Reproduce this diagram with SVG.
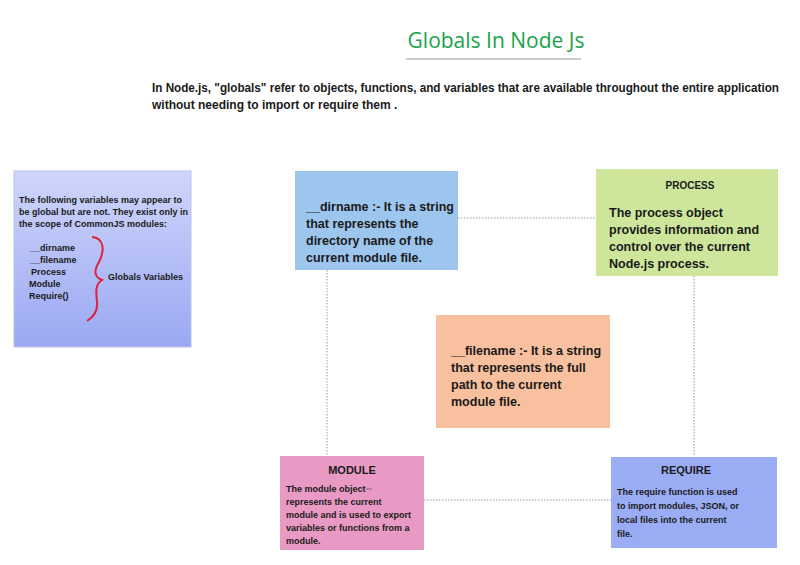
<svg xmlns="http://www.w3.org/2000/svg" width="800" height="565" viewBox="0 0 800 565">
<style>
text{font-family:"Liberation Sans",Arial,sans-serif;font-weight:bold;fill:#1a1a1a}
.s{font-size:9px}
.m{font-size:12.5px}
.h{font-size:11px}
.c{stroke:#999;stroke-width:1;stroke-dasharray:1.5 1.5;fill:none}
</style>
<defs>
<linearGradient id="g" x1="0" y1="0" x2="0" y2="1"><stop offset="0" stop-color="#cfd6fb"/><stop offset="1" stop-color="#9aa8f2"/></linearGradient>
</defs>
<rect width="800" height="565" fill="#fff"/>
<g id="title">
<text x="496" y="48" text-anchor="middle" style="font-size:21px;font-weight:normal;fill:#1aa34a;font-family:'Open Sans','Liberation Sans',sans-serif">Globals In Node Js</text>
<line x1="406" y1="59" x2="581" y2="59" stroke="#999"/>
<text x="152" y="92" style="font-size:12px" textLength="627" lengthAdjust="spacingAndGlyphs">In Node.js, "globals" refer to objects, functions, and variables that are available throughout the entire application</text>
<text x="152" y="109" style="font-size:12px">without needing to import or require them .</text>
</g>
<g id="connectors">
<path class="c" d="M458 218H596M327 270V456M694 276V456M424 500H611"/>
</g>
<g id="left">
<rect x="14" y="171" width="177" height="176" fill="url(#g)" stroke="#b8c2f0"/>
<text class="s" x="19" y="203">The following variables may appear to</text>
<text class="s" x="19" y="215">be global but are not. They exist only in</text>
<text class="s" x="19" y="227">the scope of CommonJS modules:</text>
<text class="s" x="30" y="251">__dirname</text>
<text class="s" x="30" y="263">__filename</text>
<text class="s" x="31" y="275">Process</text>
<text class="s" x="29" y="287">Module</text>
<text class="s" x="29" y="299">Require()</text>
<path d="M92 237C104 238 105 250 99 262C93 272 95 277 102 280C95 284 96 292 97 302C98 312 92 318 87 321" stroke="#e0203a" stroke-width="2" fill="none"/>
<text class="s" x="108" y="280">Globals Variables</text>
</g>
<g id="dirname">
<rect x="295" y="171" width="163" height="99" fill="#9dc6ee"/>
<text class="m" x="306" y="211">__dirname :- It is a string</text>
<text class="m" x="306" y="228">that represents the</text>
<text class="m" x="306" y="245">directory name of the</text>
<text class="m" x="306" y="262">current module file.</text>
</g>
<g id="process">
<rect x="596" y="169" width="182" height="107" fill="#cde69c"/>
<text x="690" y="189" text-anchor="middle" style="font-size:10px">PROCESS</text>
<text class="m" x="609" y="217">The process object</text>
<text class="m" x="609" y="234">provides information and</text>
<text class="m" x="609" y="251">control over the current</text>
<text class="m" x="609" y="268">Node.js process.</text>
</g>
<g id="filename">
<rect x="436" y="315" width="174" height="113" fill="#f8c09e"/>
<text class="m" x="451" y="355">__filename :- It is a string</text>
<text class="m" x="451" y="372">that represents the full</text>
<text class="m" x="451" y="389">path to the current</text>
<text class="m" x="451" y="406">module file.</text>
</g>
<g id="module">
<rect x="280" y="456" width="144" height="94" fill="#e89ac4"/>
<text class="h" x="352" y="474" text-anchor="middle">MODULE</text>
<text class="s" x="286" y="492">The module object</text>
<line x1="366" y1="489" x2="372" y2="489" stroke="#555" stroke-width="0.7"/>
<text class="s" x="286" y="505">represents the current</text>
<text class="s" x="286" y="518">module and is used to export</text>
<text class="s" x="286" y="531">variables or functions from a</text>
<text class="s" x="286" y="544">module.</text>
</g>
<g id="require">
<rect x="611" y="457" width="166" height="91" fill="#9aacf4"/>
<text class="h" x="686" y="474" text-anchor="middle">REQUIRE</text>
<text class="s" x="617" y="495">The require function is used</text>
<text class="s" x="617" y="509">to import modules, JSON, or</text>
<text class="s" x="617" y="523">local files into the current</text>
<text class="s" x="617" y="537">file.</text>
</g>
</svg>
